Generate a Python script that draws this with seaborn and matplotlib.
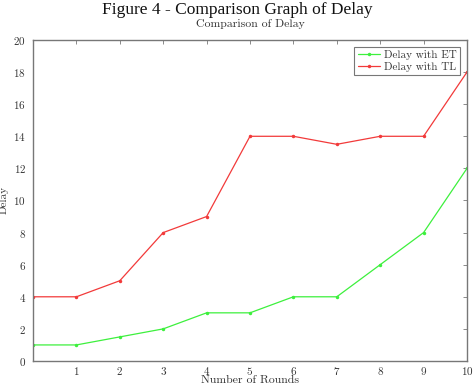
#!/usr/bin/env python3
"""
Comparison of delay: ET vs TL over number of rounds.
Outputs: out.png
"""
import pandas as pd
import matplotlib.pyplot as plt
import seaborn as sns

rounds = [0, 1, 2, 3, 4, 5, 6, 7, 8, 9, 10]
delay_et = [1, 1, 1.5, 2, 3, 3, 4, 4, 6, 8, 12]
delay_tl = [4, 4, 5, 8, 9, 14, 14, 13.5, 14, 14, 18]
series_names = ["Delay with ET", "Delay with TL"]
x_ticks = [1, 2, 3, 4, 5, 6, 7, 8, 9, 10]
y_ticks = [0, 2, 4, 6, 8, 10, 12, 14, 16, 18, 20]

sns.set_theme(style="white")
plt.rcParams.update({
    "font.family": ["cmr10", "DejaVu Serif"],
    "axes.formatter.use_mathtext": True,
    "axes.unicode_minus": False,
})

df = pd.DataFrame({
    "round": rounds * 2,
    "delay": delay_et + delay_tl,
    "series": [series_names[0]] * len(rounds) + [series_names[1]] * len(rounds),
})

fig = plt.figure(figsize=(4.74, 3.86), dpi=100)
ax = fig.add_axes([0.0696, 0.0648, 0.9156, 0.8316])

palette = {series_names[0]: "#3df03d", series_names[1]: "#f23a3a"}
sns.lineplot(data=df, x="round", y="delay", hue="series", palette=palette,
             marker="o", markersize=2.5, markeredgewidth=0, linewidth=0.9,
             ax=ax)

ax.set_xlim(0, 10)
ax.set_ylim(0, 20)
ax.set_xticks(x_ticks)
ax.set_yticks(y_ticks)
ax.tick_params(direction="in", length=3, width=0.6, color="#777777",
               top=True, right=True, labelsize=8, labelcolor="#333333")
ax.tick_params(axis="x", pad=3)
ax.tick_params(axis="y", pad=5)
for s in ax.spines.values():
    s.set_color("#777777")
    s.set_linewidth(1.0)

ax.set_xlabel("Number of Rounds", fontsize=8.5, labelpad=-1, color="#333333")
ax.set_ylabel("Delay", fontsize=8, labelpad=3, color="#333333")
ax.set_title("Comparison of Delay", fontsize=8.5, pad=9, color="#333333")

leg = ax.legend(loc="upper right", fontsize=8, frameon=True, fancybox=False,
                borderaxespad=0.6, handlelength=2.0, borderpad=0.3,
                labelspacing=0.15, handletextpad=0.4)
leg.get_frame().set_edgecolor("#555555")
leg.get_frame().set_linewidth(0.8)
for t in leg.get_texts():
    t.set_color("#333333")

fig.text(0.5, 0.975, "Figure 4 - Comparison Graph of Delay",
         family="Liberation Serif", fontsize=12.5, ha="center", va="center",
         color="#111111")

fig.savefig("out.png", dpi=100)
plt.close(fig)
